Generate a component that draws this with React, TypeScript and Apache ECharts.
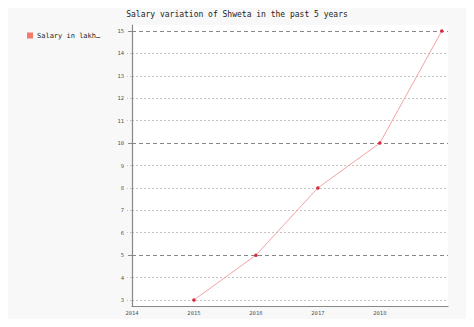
import React, { useEffect, useRef } from "react";
import * as echarts from "echarts";

const title = "Salary variation of Shweta in the past 5 years";
const seriesName = "Salary in lakhs";
const years = [2015, 2016, 2017, 2018, 2019];
const salaries = [3, 5, 8, 10, 15];
const xTickLabels = [2014, 2015, 2016, 2017, 2018];
const yTickLabels = [3, 4, 5, 6, 7, 8, 9, 10, 11, 12, 13, 14, 15];
const yMajor = [5, 10, 15];
const yMinor = [3, 4, 6, 7, 8, 9, 11, 12, 13, 14];

const FONT = "DejaVu Sans Mono";
const LEGEND_MAX_CHARS = 14;

export default function App() {
  const ref = useRef<HTMLDivElement>(null);
  useEffect(() => {
    const chart = echarts.init(ref.current!, null, { renderer: "svg" });
    const yBase = {
      type: "value" as const,
      min: 2.732,
      max: 15.268,
      position: "left" as const,
    };
    chart.setOption({
      animation: false,
      backgroundColor: "#f8f8f8",
      title: {
        text: title,
        left: "center",
        top: 10,
        padding: 0,
        textStyle: { fontFamily: FONT, fontSize: 8, fontWeight: "normal", color: "#222" },
      },
      legend: {
        left: 27,
        top: 32,
        padding: 0,
        orient: "vertical",
        icon: "rect",
        itemWidth: 6,
        itemHeight: 6,
        itemGap: 4,
        formatter: (name: string) =>
          name.length > LEGEND_MAX_CHARS ? name.slice(0, LEGEND_MAX_CHARS) + "…" : name,
        textStyle: {
          fontFamily: FONT,
          fontSize: 7,
          color: "#222",
          padding: [0, 0, 0, -1],
        },
        data: [{ name: seriesName, itemStyle: { color: "#f4796d" } }],
      },
      grid: {
        left: 132,
        right: 26,
        top: 25,
        bottom: 21,
        show: true,
        backgroundColor: "#ffffff",
        borderWidth: 0,
      },
      xAxis: {
        type: "value",
        min: 2014,
        max: 2019.1,
        axisLine: { show: true, lineStyle: { color: "#888", width: 1.2 } },
        axisTick: { show: false },
        splitLine: { show: false },
        axisLabel: {
          customValues: xTickLabels,
          fontFamily: FONT,
          fontSize: 5.5,
          color: "#555",
          margin: 4,
          formatter: (v: number) => String(v),
        },
      },
      yAxis: [
        {
          ...yBase,
          axisLine: { show: true, lineStyle: { color: "#888", width: 1.2 } },
          axisTick: {
            show: true,
            customValues: yMinor,
            length: 5,
            lineStyle: { color: "#c4c4c4", type: [2, 2] },
          },
          splitLine: {
            show: true,
            lineStyle: { color: "#c4c4c4", width: 1, type: [2, 2] },
          },
          axisLabel: {
            customValues: yTickLabels,
            fontFamily: FONT,
            fontSize: 5.5,
            color: "#555",
            margin: 8,
          },
        },
        {
          ...yBase,
          axisLine: { show: false },
          axisTick: {
            show: true,
            customValues: yMajor,
            length: 5,
            lineStyle: { color: "#888", type: [4, 3] },
          },
          splitLine: {
            show: true,
            lineStyle: { color: "#888", width: 1, type: [4, 3] },
          },
          axisLabel: { show: false },
        },
      ],
      series: [
        {
          name: seriesName,
          type: "line",
          data: years.map((y, i) => [y, salaries[i]]),
          symbol: "circle",
          symbolSize: 3.5,
          itemStyle: { color: "#d8283a" },
          lineStyle: { color: "#f4a3a3", width: 1 },
          z: 5,
        },
      ],
    });
    return () => chart.dispose();
  }, []);
  return <div ref={ref} style={{ width: 474, height: 327, margin: -8 }} />;
}
